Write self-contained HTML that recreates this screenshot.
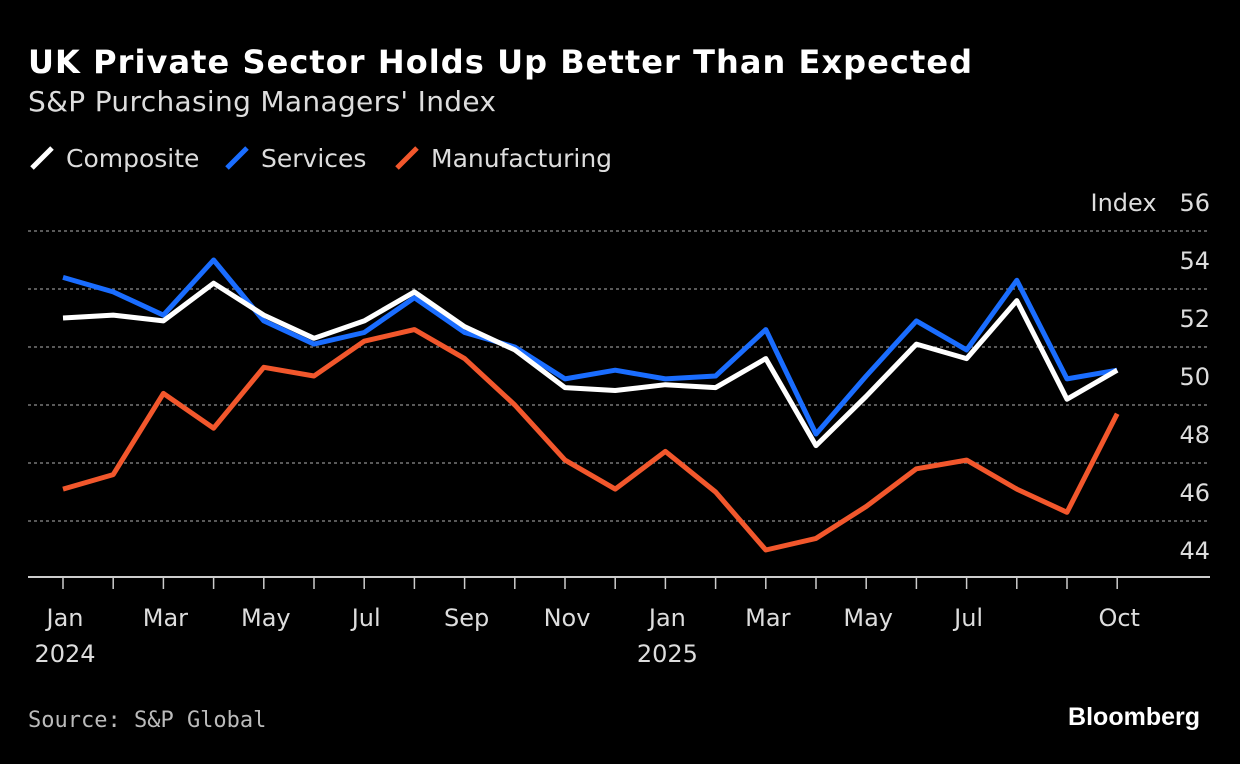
<!DOCTYPE html>
<html><head><meta charset="utf-8"><style>
body{margin:0;background:#000;width:1240px;height:760px;overflow:hidden;font-family:"DejaVu Sans",sans-serif;color:#fff}
</style></head><body>
<svg width="1240" height="760" font-family="DejaVu Sans, sans-serif">
<text x="28" y="73" font-size="32" font-weight="bold" fill="#fff" textLength="944">UK Private Sector Holds Up Better Than Expected</text>
<text x="28" y="111" font-size="28" fill="#ddd" textLength="468">S&amp;P Purchasing Managers' Index</text>
<g font-size="25" fill="#ddd">
<line x1="32" y1="168" x2="52" y2="148" stroke="#fff" stroke-width="5"/>
<text x="66" y="167">Composite</text>
<line x1="227" y1="168" x2="247" y2="148" stroke="#1a6dff" stroke-width="5"/>
<text x="261" y="167">Services</text>
<line x1="397" y1="168" x2="417" y2="148" stroke="#f2572c" stroke-width="5"/>
<text x="431" y="167">Manufacturing</text>
</g>
<g id="grid"></g><g id="xaxis"></g><g id="series"></g>
<text x="28" y="727" font-size="22" fill="#bbb" font-family="DejaVu Sans Mono, monospace">Source: S&amp;P Global</text>
<text x="1200" y="725" font-size="25" font-weight="bold" fill="#fff" text-anchor="end" font-family="Liberation Sans, sans-serif">Bloomberg</text>
</svg>
<script>
const months=["Jan","Feb","Mar","Apr","May","Jun","Jul","Aug","Sep","Oct","Nov","Dec","Jan","Feb","Mar","Apr","May","Jun","Jul","Aug","Sep","Oct"];
const yTicks=[44,46,48,50,52,54,56];
const xLabels=[[0,"Jan","2024"],[2,"Mar",""],[4,"May",""],[6,"Jul",""],[8,"Sep",""],[10,"Nov",""],[12,"Jan","2025"],[14,"Mar",""],[16,"May",""],[18,"Jul",""],[21,"Oct",""]];
const composite=[53.0,53.1,52.9,54.2,53.1,52.3,52.9,53.9,52.7,51.9,50.6,50.5,50.7,50.6,51.6,48.6,50.3,52.1,51.6,53.6,50.2,51.2];
const services=[54.4,53.9,53.1,55.0,52.9,52.1,52.5,53.7,52.5,52.0,50.9,51.2,50.9,51.0,52.6,49.0,51.0,52.9,51.9,54.3,50.9,51.2];
const manufacturing=[47.1,47.6,50.4,49.2,51.3,51.0,52.2,52.6,51.6,50.0,48.1,47.1,48.4,47.0,45.0,45.4,46.5,47.8,48.1,47.1,46.3,49.7];
const NS="http://www.w3.org/2000/svg";
const x=i=>63+i*50.2;
const y=v=>405-(v-50)*29;
function mk(t,a,p){const e=document.createElementNS(NS,t);for(const k in a)e.setAttribute(k,a[k]);p.appendChild(e);return e;}
const grid=document.getElementById('grid');
yTicks.forEach(v=>{
  const gy=y(v);
  if(v>44){const l=mk('line',{x1:28,x2:1210,y1:gy,y2:gy,stroke:'#777','stroke-width':1.5,'stroke-dasharray':'3,3'},grid);
  
  }
  const t=mk('text',{x:1210,y:gy-20,'font-size':24,fill:'#ddd','text-anchor':'end'},grid);
  t.textContent=(v===56?'Index\u00a0\u00a0\u00a0':'')+v;
  
  
});
const xa=document.getElementById('xaxis');
const base=mk('line',{x1:28,x2:1210,y1:577,y2:577,stroke:'#ccc','stroke-width':2},xa);


months.forEach((m,i)=>{const t=mk('line',{x1:x(i),x2:x(i),y1:577,y2:589,stroke:'#ccc','stroke-width':1.5},xa);

});
xLabels.forEach(([i,a,b])=>{
  const t=mk('text',{x:x(i)+2,y:626,'font-size':24,fill:'#ddd','text-anchor':'middle'},xa);t.textContent=a;
  
  
  if(b){const t2=mk('text',{x:x(i)+2,y:662,'font-size':24,fill:'#ddd','text-anchor':'middle'},xa);t2.textContent=b;
  
  }
});
const sg=document.getElementById('series');
[[manufacturing,'#f2572c','manufacturing'],[services,'#1a6dff','services'],[composite,'#ffffff','composite']].forEach(([d,c,n])=>{
  const p=mk('polyline',{points:d.map((v,i)=>x(i)+','+y(v)).join(' '),fill:'none',stroke:c,'stroke-width':5,'stroke-linejoin':'round'},sg);
  
  
});
</script>
</body></html>
